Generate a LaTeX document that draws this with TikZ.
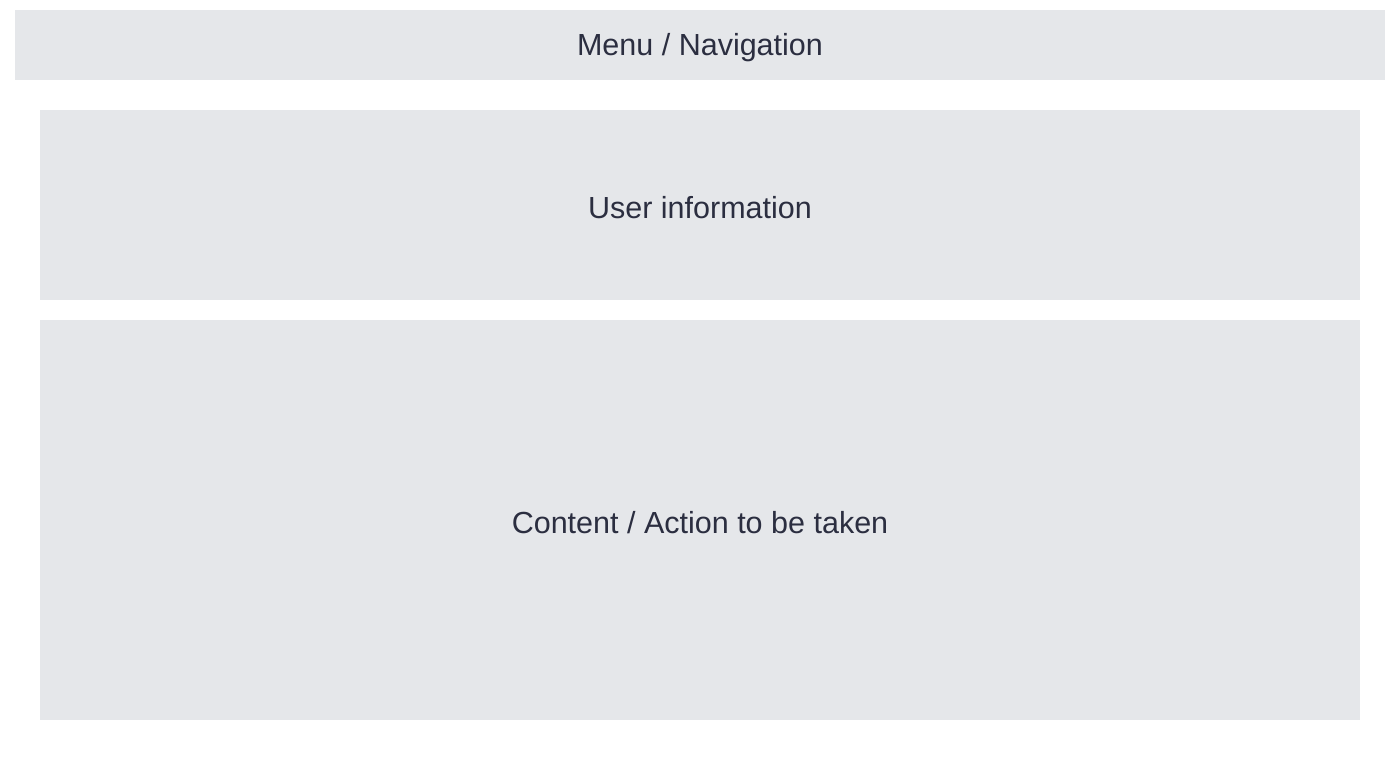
\documentclass[tikz,border=0pt]{standalone}
\usepackage{fontspec}
\setmainfont{Liberation Sans}
\definecolor{boxfill}{HTML}{E5E7EA}
\definecolor{boxtext}{HTML}{2B2E40}
\begin{document}
\begin{tikzpicture}[x=1pt,y=-1pt,
  panel/.style={fill=boxfill,draw=none,inner sep=0pt,text=boxtext,font=\fontsize{30.5}{36}\selectfont}]
\useasboundingbox (0,0) rectangle (1400,768);
\fill[white] (0,0) rectangle (1400,768);
\fill[boxfill] (15,10) rectangle (1385,80);
\node[panel] (menu) at (700,48) {Menu / Navigation};
\fill[boxfill] (40,110) rectangle (1360,300);
\node[panel] (user) at (700,208) {User information};
\fill[boxfill] (40,320) rectangle (1360,720);
\node[panel] (content) at (700,523) {Content / Action to be taken};
\end{tikzpicture}
\end{document}
